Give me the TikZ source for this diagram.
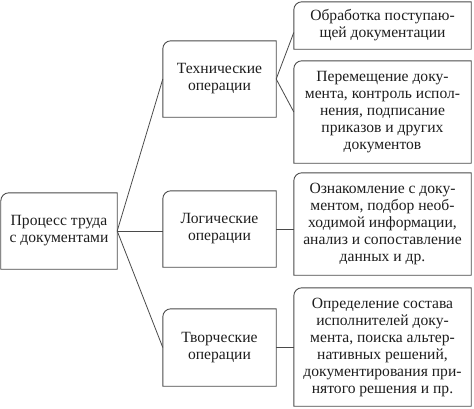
\documentclass[tikz,border=0pt]{standalone}
\usepackage{fontspec}
\setmainfont{Liberation Serif}
\usetikzlibrary{calc}
\definecolor{linec}{HTML}{4A4A4A}
\definecolor{textc}{HTML}{1E1E1E}
\tikzset{
  boxline/.style={draw=linec, line width=0.9pt},
  conn/.style={draw=linec, line width=0.8pt},
  cbox/.style={inner sep=0pt, align=center, text=textc,
    font=\fontsize{15.6}{17}\selectfont},
}
\newcommand\cornbox[1]{\draw[boxline] (#1.south west) -- ([yshift=-8pt]#1.north west) arc[start angle=180,end angle=90,radius=8pt] -- (#1.north east) -- (#1.south east) -- cycle;}
\begin{document}
\begin{tikzpicture}[x=1pt,y=-1pt]
\useasboundingbox[fill=white] (0,0) rectangle (474,408);
\node[cbox, minimum width=116pt, minimum height=76pt] (proc) at (59,231) {Процесс труда\\с документами};
\node[cbox, minimum width=113pt, minimum height=76pt] (tech) at (219.5,79) {Технические\\операции};
\node[cbox, minimum width=113pt, minimum height=76pt] (logic) at (219.5,229) {Логические\\операции};
\node[cbox, minimum width=113pt, minimum height=77pt] (creat) at (219.5,347.5) {Творческие\\операции};
\node[cbox, minimum width=177pt, minimum height=47pt] (t1) at (382.5,25.5) {Обработка поступаю-\\щей документации};
\node[cbox, minimum width=177pt, minimum height=102pt] (t2) at (382.5,112) {Перемещение доку-\\мента, контроль испол-\\нения, подписание\\приказов и других\\документов};
\node[cbox, minimum width=177pt, minimum height=102pt] (l1) at (382.5,224) {Ознакомление с доку-\\ментом, подбор необ-\\ходимой информации,\\анализ и сопоставление\\данных и др.};
\node[cbox, minimum width=177pt, minimum height=118pt] (c1) at (382.5,347) {Определение состава\\исполнителей доку-\\мента, поиска альтер-\\нативных решений,\\документирования при-\\нятого решения и пр.};
\foreach \n in {proc,tech,logic,creat,t1,t2,l1,c1} {\cornbox{\n}}
\draw[conn] (proc.east) -- (tech.west);
\draw[conn] (proc.east) -- (proc.east -| logic.west);
\draw[conn] (proc.east) -- (creat.west);
\draw[conn] (tech.east) -- ([yshift=-7pt]t1.west);
\draw[conn] (tech.east) -- (t2.west);
\draw[conn] (logic.east) -- (logic.east -| l1.west);
\draw[conn] (creat.east) -- (creat.east -| c1.west);
\end{tikzpicture}
\end{document}
